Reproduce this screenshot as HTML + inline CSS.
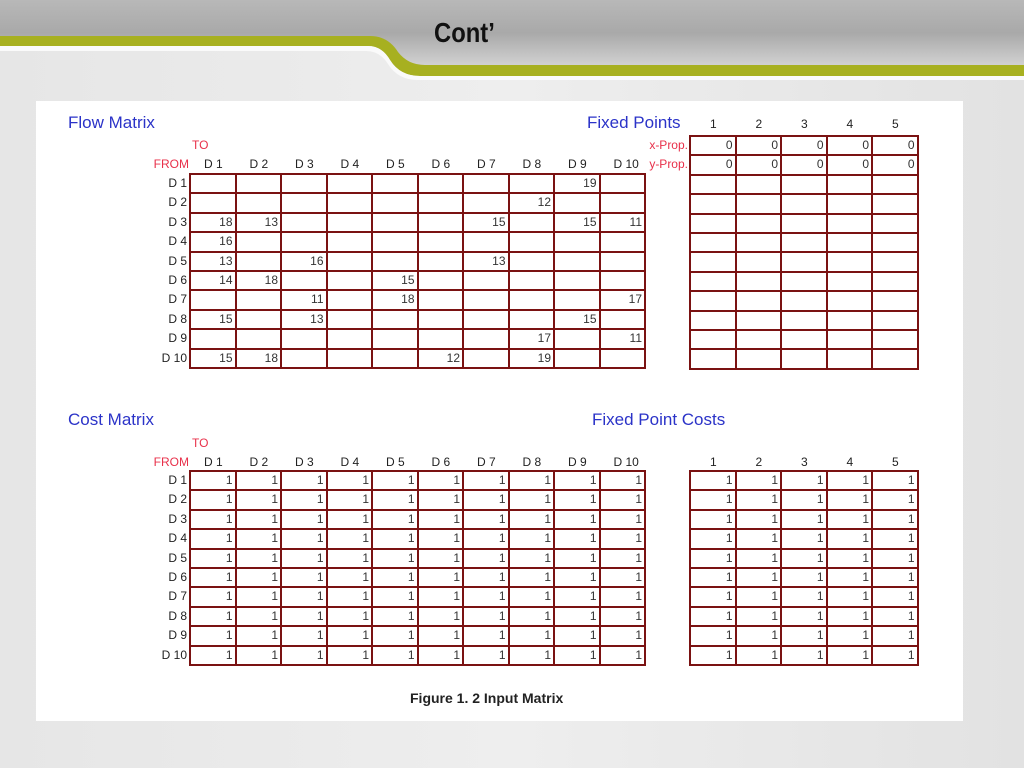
<!DOCTYPE html>
<html><head><meta charset="utf-8">
<style>
body{margin:0;width:1024px;height:768px;overflow:hidden;font-family:"Liberation Sans",sans-serif;}
#bg{position:absolute;left:0;top:0;width:1024px;height:768px;background:linear-gradient(90deg,#e6e6e6,#eeeeee 50%,#e2e2e2);}
#panel{position:absolute;left:36px;top:101px;width:927px;height:620px;background:#fff;}
.t{position:absolute;font-size:12px;color:#222;white-space:nowrap;}
.red{color:#e8304a;}
.blue{color:#2b33c8;font-size:17px;}
.cell{position:absolute;box-sizing:border-box;border:2px solid #7a1212;text-align:right;font-size:12px;color:#333;padding-right:2px;line-height:16px;}
</style></head><body>
<div id="bg"></div>
<svg style="position:absolute;left:0;top:0" width="1024" height="90">
<defs><linearGradient id="g" x1="0" y1="0" x2="0" y2="1"><stop offset="0" stop-color="#b8b8b8"/><stop offset="0.5" stop-color="#a9a9a9"/><stop offset="1" stop-color="#d2d2d2"/></linearGradient></defs>
<path d="M0 0H1024V66H420Q405 66 395 52Q385 37 370 37H0Z" fill="url(#g)"/>
<path d="M0 36H370Q388 36 398 52Q408 65 425 65H1024V76H420Q400 76 390 60Q382 46 368 46H0Z" fill="#a7b020"/>
<path d="M0 46H368Q382 46 390 60Q400 76 420 76H1024V80H418Q398 80 388 64Q380 51 366 51H0Z" fill="#fafafa"/>
</svg>
<div class="t" style="left:434px;top:17px;font-size:28px;font-weight:bold;color:#111;transform:scaleX(0.85);transform-origin:left">Cont’</div>
<div id="panel"></div>
<div id="root"></div>
<div class="t" style="left:410px;top:690px;font-size:14px;font-weight:bold;color:#222">Figure 1. 2 Input Matrix</div>
<script>
const labels=["D 1","D 2","D 3","D 4","D 5","D 6","D 7","D 8","D 9","D 10"];
const fixedCols=["1","2","3","4","5"];
const flowRows=[
[null,null,null,null,null,null,null,null,19,null],
[null,null,null,null,null,null,null,12,null,null],
[18,13,null,null,null,null,15,null,15,11],
[16,null,null,null,null,null,null,null,null,null],
[13,null,16,null,null,null,13,null,null,null],
[14,18,null,null,15,null,null,null,null,null],
[null,null,11,null,18,null,null,null,null,17],
[15,null,13,null,null,null,null,null,15,null],
[null,null,null,null,null,null,null,17,null,11],
[15,18,null,null,null,12,null,19,null,null]];
const xProp=[0,0,0,0,0];
const yProp=[0,0,0,0,0];
const costValue=1;
const root=document.getElementById('root');
const CW=45.5, RH=19.4;
function txt(s,x,y,cls,name,align){const d=document.createElement('div');d.className='t '+(cls||'');d.textContent=s;d.style.left=x+'px';d.style.top=y+'px';if(align){d.style.transform='translateX(-100%)';}


root.appendChild(d);return d;}
function cell(v,x,y,name){const d=document.createElement('div');d.className='cell';d.style.left=(x-1)+'px';d.style.top=(y-1)+'px';d.style.width=(CW+2)+'px';d.style.height=(RH+2)+'px';d.textContent=(v===null||v===undefined)?'':v;


root.appendChild(d);}
function matrix(x0,y0,getV,title,tx,ty,hy){
  txt(title,tx,ty,'blue',title.toLowerCase().replace(/ /g,'-')+'-title');
  txt('TO',192,hy-19,'red','to-label');
  txt('FROM',189,hy,'red','from-label',true);
  labels.forEach((l,j)=>txt(l,x0+j*CW+14,hy,'','col-header-'+(j+1)));
  labels.forEach((l,i)=>{txt(l,187,y0+i*RH+2,'','row-label-'+(i+1),true);
    for(let j=0;j<10;j++)cell(getV(i,j),x0+j*CW,y0+i*RH,'cell-r'+(i+1)+'-c'+(j+1));});
}
matrix(190,174,(i,j)=>flowRows[i][j],'Flow Matrix',68,113,157);
matrix(190,471,(i,j)=>costValue,'Cost Matrix',68,410,455);
txt('Fixed Points',587,113,'blue','fixed-points-title');
txt('Fixed Point Costs',592,410,'blue','fixed-point-costs-title');
fixedCols.forEach((c,j)=>{txt(c,690+j*CW+20,117,'','fixed-col-'+c);txt(c,690+j*CW+20,455,'','cost-col-'+c);});
txt('x-Prop.',688,138,'red','x-prop-label',true);
txt('y-Prop.',688,157,'red','y-prop-label',true);
for(let i=0;i<12;i++)for(let j=0;j<5;j++){
  let v=i===0?xProp[j]:(i===1?yProp[j]:null);
  cell(v,690+j*CW,136+i*RH,'fixed-r'+(i+1)+'-c'+(j+1));
}
for(let i=0;i<10;i++)for(let j=0;j<5;j++)cell(costValue,690+j*CW,471+i*RH,'fixed-cost-r'+(i+1)+'-c'+(j+1));
</script>
</body></html>
